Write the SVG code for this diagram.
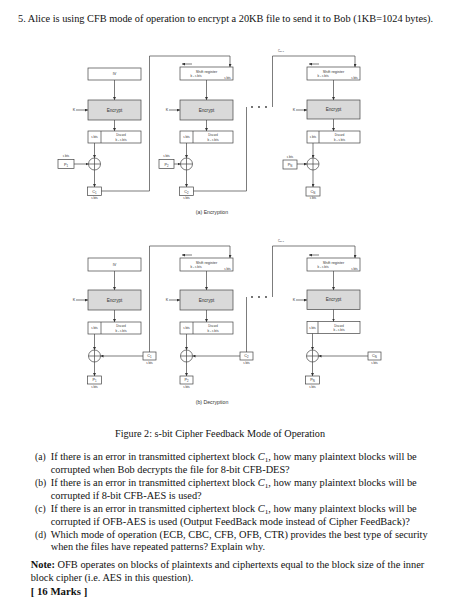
<svg xmlns="http://www.w3.org/2000/svg" width="474" height="605" viewBox="0 0 474 605">
<defs>
<marker id="ah" viewBox="0 0 6 6" refX="6" refY="3" markerWidth="3" markerHeight="3" markerUnits="userSpaceOnUse" orient="auto"><path d="M0,0 L6,3 L0,6 z" fill="#333"/></marker>
<style>
.box{fill:#fff;stroke:#444;stroke-width:0.7}
.enc{fill:#d9d9d9;stroke:#444;stroke-width:0.7}
.ln{fill:none;stroke:#444;stroke-width:0.7}
.ar{fill:none;stroke:#444;stroke-width:0.7;marker-end:url(#ah)}
.d{font-family:"Liberation Sans",Arial,sans-serif;fill:#333;text-anchor:middle}
.f5{font-size:4.6px}
.f4{font-size:3.8px}
.f3{font-size:2.8px}
.cap{font-family:"Liberation Sans",Arial,sans-serif;fill:#333;font-size:5.2px;text-anchor:middle}
.m{font-family:"Liberation Serif","Times New Roman",serif;fill:#111;font-size:9.5px}
.b{font-weight:bold}
.i{font-style:italic}
</style>
</defs>
<rect width="474" height="605" fill="#fff"/>
<text class="m" x="18" y="22" textLength="415" lengthAdjust="spacingAndGlyphs">5. Alice is using CFB mode of operation to encrypt a 20KB file to send it to Bob (1KB=1024 bytes).</text>

<!-- ============ ENCRYPTION ============ -->
<g id="enc-col1">
<g id="e-iv"><rect class="box" x="88" y="68" width="53" height="12"/><text class="d f4" x="114.5" y="75.4">IV</text></g>
<g id="e-enc1"><rect class="enc" x="88" y="100" width="53" height="20"/><text class="d f5" x="114.5" y="111.6">Encrypt</text><text class="d f4" x="74" y="111.3">K</text></g>
<g id="e-disc1"><rect class="box" x="88" y="131" width="53" height="12"/><line class="ln" x1="101" y1="131" x2="101" y2="143"/><text class="d f3" x="94.5" y="138">s bits</text><text class="d f3" x="121" y="136.2">Discard</text><text class="d f3" x="121" y="140.8">b – s bits</text></g>
<g id="e-xor1"><circle class="box" cx="94.5" cy="164" r="6"/><line class="ln" x1="88.5" y1="164" x2="100.5" y2="164"/><line class="ln" x1="94.5" y1="158" x2="94.5" y2="170"/></g>
<g id="e-p1"><rect class="box" x="58" y="159.5" width="16" height="9"/><text class="d f4" x="66" y="165.6">P<tspan font-size="2.8" dy="1">1</tspan></text><text class="d f3" x="66" y="157.3">s bits</text></g>
<g id="e-c1"><rect class="box" x="87.5" y="187" width="14" height="8.5"/><text class="d f4" x="94.5" y="192.8">C<tspan font-size="2.8" dy="1">1</tspan></text><text class="d f3" x="94.5" y="198.8">s bits</text></g>
</g>

<g id="enc-col2">
<g id="e-sr2"><rect class="box" x="180" y="67" width="53" height="13"/><text class="d f4" x="206.5" y="72.5">Shift register</text><text class="d f3" x="196" y="77.2">b – s bits</text><text class="d f3" x="227.5" y="78.6">s bits</text></g>
<g id="e-enc2"><rect class="enc" x="180" y="100" width="53" height="20"/><text class="d f5" x="206.5" y="111.6">Encrypt</text><text class="d f4" x="167" y="111.3">K</text></g>
<g id="e-disc2"><rect class="box" x="180" y="131" width="53" height="12"/><line class="ln" x1="193" y1="131" x2="193" y2="143"/><text class="d f3" x="186.5" y="138">s bits</text><text class="d f3" x="213" y="136.2">Discard</text><text class="d f3" x="213" y="140.8">b – s bits</text></g>
<g id="e-xor2"><circle class="box" cx="186.5" cy="164" r="6"/><line class="ln" x1="180.5" y1="164" x2="192.5" y2="164"/><line class="ln" x1="186.5" y1="158" x2="186.5" y2="170"/></g>
<g id="e-p2"><rect class="box" x="159" y="159.5" width="15" height="9"/><text class="d f4" x="166.5" y="165.6">P<tspan font-size="2.8" dy="1">2</tspan></text><text class="d f3" x="166.5" y="157.3">s bits</text></g>
<g id="e-c2"><rect class="box" x="179.5" y="187" width="14" height="8.5"/><text class="d f4" x="186.5" y="192.8">C<tspan font-size="2.8" dy="1">2</tspan></text><text class="d f3" x="186.5" y="198.8">s bits</text></g>
</g>

<g id="enc-col3">
<g id="e-sr3"><rect class="box" x="307" y="67" width="53" height="13"/><text class="d f4" x="333.5" y="72.5">Shift register</text><text class="d f3" x="323" y="77.2">b – s bits</text><text class="d f3" x="354.5" y="78.6">s bits</text></g>
<g id="e-enc3"><rect class="enc" x="307" y="100" width="53" height="19"/><text class="d f5" x="333.5" y="111">Encrypt</text><text class="d f4" x="294" y="111.3">K</text></g>
<g id="e-disc3"><rect class="box" x="307" y="131" width="53" height="12"/><line class="ln" x1="319" y1="131" x2="319" y2="143"/><text class="d f3" x="313" y="138">s bits</text><text class="d f3" x="339.5" y="136.2">Discard</text><text class="d f3" x="339.5" y="140.8">b – s bits</text></g>
<g id="e-xor3"><circle class="box" cx="313" cy="164" r="6"/><line class="ln" x1="307" y1="164" x2="319" y2="164"/><line class="ln" x1="313" y1="158" x2="313" y2="170"/></g>
<g id="e-pn"><rect class="box" x="283" y="160" width="14" height="9"/><text class="d f4" x="290" y="166">P<tspan font-size="2.8" dy="1">N</tspan></text><text class="d f3" x="290" y="157.8">s bits</text></g>
<g id="e-cn"><rect class="box" x="306" y="187" width="14" height="9"/><text class="d f4" x="313" y="193">C<tspan font-size="2.8" dy="1">N</tspan></text><text class="d f3" x="313" y="199.3">s bits</text></g>
</g>
<text class="d f3" x="281" y="51.5">C<tspan font-size="2.2" dy="0.8">N–1</tspan></text>
<text class="cap" x="212" y="213.5">(a) Encryption</text>

<!-- ============ DECRYPTION ============ -->
<g id="dec-col1">
<g id="d-iv"><rect class="box" x="88" y="258" width="53" height="13"/><text class="d f4" x="114.5" y="265.9">IV</text></g>
<g id="d-enc1"><rect class="enc" x="88" y="290" width="53" height="20"/><text class="d f5" x="114.5" y="301.6">Encrypt</text><text class="d f4" x="74" y="301.3">K</text></g>
<g id="d-disc1"><rect class="box" x="88" y="322" width="53" height="12"/><line class="ln" x1="101" y1="322" x2="101" y2="334"/><text class="d f3" x="94.5" y="329">s bits</text><text class="d f3" x="121" y="327.2">Discard</text><text class="d f3" x="121" y="331.8">b – s bits</text></g>
<g id="d-xor1"><circle class="box" cx="94.5" cy="356" r="6"/><line class="ln" x1="88.5" y1="356" x2="100.5" y2="356"/><line class="ln" x1="94.5" y1="350" x2="94.5" y2="362"/></g>
<g id="d-p1"><rect class="box" x="87.5" y="376" width="14" height="8"/><text class="d f4" x="94.5" y="381.4">P<tspan font-size="2.8" dy="1">1</tspan></text><text class="d f3" x="94.5" y="388">s bits</text></g>
<g id="d-c1"><rect class="box" x="143" y="352" width="13" height="8"/><text class="d f4" x="149.5" y="357.4">C<tspan font-size="2.8" dy="1">1</tspan></text><text class="d f3" x="149.5" y="364">s bits</text></g>
</g>

<g id="dec-col2">
<g id="d-sr2"><rect class="box" x="180" y="258" width="53" height="13"/><text class="d f4" x="206.5" y="263.5">Shift register</text><text class="d f3" x="196" y="268.2">b – s bits</text><text class="d f3" x="227.5" y="269.6">s bits</text></g>
<g id="d-enc2"><rect class="enc" x="180" y="290" width="53" height="20"/><text class="d f5" x="206.5" y="301.6">Encrypt</text><text class="d f4" x="167" y="301.3">K</text></g>
<g id="d-disc2"><rect class="box" x="180" y="322" width="53" height="12"/><line class="ln" x1="193" y1="322" x2="193" y2="334"/><text class="d f3" x="186.5" y="329">s bits</text><text class="d f3" x="213" y="327.2">Discard</text><text class="d f3" x="213" y="331.8">b – s bits</text></g>
<g id="d-xor2"><circle class="box" cx="186.5" cy="356" r="6"/><line class="ln" x1="180.5" y1="356" x2="192.5" y2="356"/><line class="ln" x1="186.5" y1="350" x2="186.5" y2="362"/></g>
<g id="d-p2"><rect class="box" x="180" y="376" width="13" height="8"/><text class="d f4" x="186.5" y="381.4">P<tspan font-size="2.8" dy="1">2</tspan></text><text class="d f3" x="186.5" y="388">s bits</text></g>
<g id="d-c2"><rect class="box" x="240" y="352" width="13" height="8"/><text class="d f4" x="246.5" y="357.4">C<tspan font-size="2.8" dy="1">2</tspan></text><text class="d f3" x="246.5" y="364">s bits</text></g>
</g>

<g id="dec-col3">
<g id="d-sr3"><rect class="box" x="307" y="258" width="53" height="13"/><text class="d f4" x="333.5" y="263.5">Shift register</text><text class="d f3" x="323" y="268.2">b – s bits</text><text class="d f3" x="354.5" y="269.6">s bits</text></g>
<g id="d-enc3"><rect class="enc" x="307" y="290" width="53" height="19.5"/><text class="d f5" x="333.5" y="301.3">Encrypt</text><text class="d f4" x="294" y="301.3">K</text></g>
<g id="d-disc3"><rect class="box" x="307" y="321.5" width="53" height="12"/><line class="ln" x1="318" y1="321.5" x2="318" y2="333.5"/><text class="d f3" x="312.5" y="328.5">s bits</text><text class="d f3" x="339" y="326.7">Discard</text><text class="d f3" x="339" y="331.3">b – s bits</text></g>
<g id="d-xor3"><circle class="box" cx="312.5" cy="356" r="6"/><line class="ln" x1="306.5" y1="356" x2="318.5" y2="356"/><line class="ln" x1="312.5" y1="350" x2="312.5" y2="362"/></g>
<g id="d-pn"><rect class="box" x="305.5" y="376" width="14" height="8"/><text class="d f4" x="312.5" y="381.4">P<tspan font-size="2.8" dy="1">N</tspan></text><text class="d f3" x="312.5" y="388">s bits</text></g>
<g id="d-cn"><rect class="box" x="368" y="352" width="13" height="8"/><text class="d f4" x="374.5" y="357.4">C<tspan font-size="2.8" dy="1">N</tspan></text><text class="d f3" x="374.5" y="364">s bits</text></g>
</g>
<text class="d f3" x="281" y="241.5">C<tspan font-size="2.2" dy="0.8">N–1</tspan></text>
<text class="cap" x="212" y="404">(b) Decryption</text>

<!-- ============ CONNECTORS ============ -->
<g id="connectors">
<line class="ar" x1="114.5" y1="80" x2="114.5" y2="100"/>
<line class="ar" x1="76" y1="110" x2="88" y2="110"/>
<line class="ar" x1="114.5" y1="120" x2="114.5" y2="131"/>
<line class="ar" x1="94.5" y1="143" x2="94.5" y2="158"/>
<line class="ar" x1="74" y1="164" x2="88.5" y2="164"/>
<line class="ar" x1="94.5" y1="170" x2="94.5" y2="187"/>
<polyline class="ar" points="101.5,191 149.5,191 149.5,56 230,56 230,67"/>
<line class="ar" x1="192" y1="64" x2="182" y2="64"/>
<line class="ar" x1="206.5" y1="80" x2="206.5" y2="100"/>
<line class="ar" x1="169" y1="110" x2="180" y2="110"/>
<line class="ar" x1="206.5" y1="120" x2="206.5" y2="131"/>
<line class="ar" x1="186.5" y1="143" x2="186.5" y2="158"/>
<line class="ar" x1="174" y1="164" x2="180.5" y2="164"/>
<line class="ar" x1="186.5" y1="170" x2="186.5" y2="187"/>
<polyline class="ln" points="193.5,191 246.5,191 246.5,107"/>
<polyline class="ar" points="272.5,107 272.5,56 355,56 355,67"/>
<line class="ar" x1="319" y1="64" x2="309" y2="64"/>
<line class="ar" x1="333.5" y1="80" x2="333.5" y2="100"/>
<line class="ar" x1="296" y1="110" x2="307" y2="110"/>
<line class="ar" x1="333.5" y1="119" x2="333.5" y2="131"/>
<line class="ar" x1="313" y1="143" x2="313" y2="158"/>
<line class="ar" x1="297" y1="164" x2="307" y2="164"/>
<line class="ar" x1="313" y1="170" x2="313" y2="187"/>
<circle cx="252" cy="107" r="0.9" fill="#333"/><circle cx="259" cy="107" r="0.9" fill="#333"/><circle cx="266" cy="107" r="0.9" fill="#333"/>
<line class="ar" x1="114.5" y1="271" x2="114.5" y2="290"/>
<line class="ar" x1="76" y1="300" x2="88" y2="300"/>
<line class="ar" x1="114.5" y1="310" x2="114.5" y2="322"/>
<line class="ar" x1="94.5" y1="334" x2="94.5" y2="350"/>
<line class="ar" x1="143" y1="356" x2="100.5" y2="356"/>
<line class="ar" x1="94.5" y1="362" x2="94.5" y2="376"/>
<polyline class="ar" points="149.5,352 149.5,246 230,246 230,258"/>
<line class="ar" x1="192" y1="255" x2="182" y2="255"/>
<line class="ar" x1="206.5" y1="271" x2="206.5" y2="290"/>
<line class="ar" x1="169" y1="300" x2="180" y2="300"/>
<line class="ar" x1="206.5" y1="310" x2="206.5" y2="322"/>
<line class="ar" x1="186.5" y1="334" x2="186.5" y2="350"/>
<line class="ar" x1="240" y1="356" x2="192.5" y2="356"/>
<line class="ar" x1="186.5" y1="362" x2="186.5" y2="376"/>
<line class="ln" x1="246.5" y1="352" x2="246.5" y2="297"/>
<polyline class="ar" points="272.5,297 272.5,246 355,246 355,258"/>
<line class="ar" x1="319" y1="255" x2="309" y2="255"/>
<line class="ar" x1="333.5" y1="271" x2="333.5" y2="290"/>
<line class="ar" x1="296" y1="300" x2="307" y2="300"/>
<line class="ar" x1="333.5" y1="309.5" x2="333.5" y2="321.5"/>
<line class="ar" x1="312.5" y1="333.5" x2="312.5" y2="350"/>
<line class="ar" x1="368" y1="356" x2="318.5" y2="356"/>
<line class="ar" x1="312.5" y1="362" x2="312.5" y2="376"/>
<circle cx="252" cy="297" r="0.9" fill="#333"/><circle cx="259" cy="297" r="0.9" fill="#333"/><circle cx="266" cy="297" r="0.9" fill="#333"/>
</g>

<!-- ============ TEXT ============ -->
<text class="m" x="115" y="437" textLength="210" lengthAdjust="spacingAndGlyphs">Figure 2: s-bit Cipher Feedback Mode of Operation</text>
<text class="m" x="35" y="460">(a)</text>
<text class="m" x="50.7" y="460" textLength="366" lengthAdjust="spacingAndGlyphs">If there is an error in transmitted ciphertext block <tspan class="i">C</tspan><tspan font-size="6.5" dy="1.5">1</tspan><tspan dy="-1.5">, how many plaintext blocks will be</tspan></text>
<text class="m" x="50.7" y="473" textLength="239" lengthAdjust="spacingAndGlyphs">corrupted when Bob decrypts the file for 8-bit CFB-DES?</text>
<text class="m" x="35" y="486">(b)</text>
<text class="m" x="50.7" y="486" textLength="366" lengthAdjust="spacingAndGlyphs">If there is an error in transmitted ciphertext block <tspan class="i">C</tspan><tspan font-size="6.5" dy="1.5">1</tspan><tspan dy="-1.5">, how many plaintext blocks will be</tspan></text>
<text class="m" x="50.7" y="498.5" textLength="151" lengthAdjust="spacingAndGlyphs">corrupted if 8-bit CFB-AES is used?</text>
<text class="m" x="35" y="512">(c)</text>
<text class="m" x="50.7" y="512" textLength="366" lengthAdjust="spacingAndGlyphs">If there is an error in transmitted ciphertext block <tspan class="i">C</tspan><tspan font-size="6.5" dy="1.5">1</tspan><tspan dy="-1.5">, how many plaintext blocks will be</tspan></text>
<text class="m" x="50.7" y="524.5" textLength="359.3" lengthAdjust="spacingAndGlyphs">corrupted if OFB-AES is used (Output FeedBack mode instead of Cipher FeedBack)?</text>
<text class="m" x="35" y="538">(d)</text>
<text class="m" x="50.7" y="538" textLength="377" lengthAdjust="spacingAndGlyphs">Which mode of operation (ECB, CBC, CFB, OFB, CTR) provides the best type of security</text>
<text class="m" x="50.7" y="550" textLength="214.3" lengthAdjust="spacingAndGlyphs">when the files have repeated patterns? Explain why.</text>
<text class="m" x="30.7" y="568" textLength="393.6" lengthAdjust="spacingAndGlyphs"><tspan class="b">Note:</tspan> OFB operates on blocks of plaintexts and ciphertexts equal to the block size of the inner</text>
<text class="m" x="30.7" y="580.5" textLength="162.6" lengthAdjust="spacingAndGlyphs">block cipher (i.e. AES in this question).</text>
<text class="m b" x="30.7" y="595" textLength="56.6" lengthAdjust="spacingAndGlyphs">[ 16 Marks ]</text>
</svg>
